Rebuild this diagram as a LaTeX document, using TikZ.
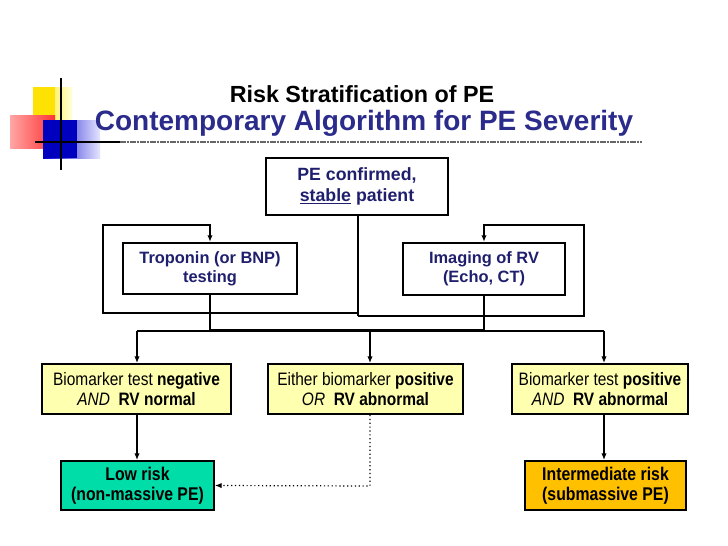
\documentclass[tikz,border=0pt]{standalone}
\usepackage{fontspec}
\setmainfont{Liberation Sans}
\newfontfamily\narrowf{Liberation Sans}[FakeStretch=0.86]
\usetikzlibrary{arrows.meta}
\definecolor{navy}{HTML}{1F1F6E}
\definecolor{ttl}{HTML}{2B2B8C}
\definecolor{lyel}{HTML}{FFFFB0}
\definecolor{lgrn}{HTML}{00DDA8}
\definecolor{ogold}{HTML}{FFC000}
\begin{document}
\begin{tikzpicture}[x=0.75pt,y=-0.75pt,
 box/.style={draw=black,line width=1.6pt,fill=white,text=navy,font=\bfseries\fontsize{12.3}{14}\selectfont,align=center,inner sep=0pt},
 ybox/.style={draw=black,line width=1.4pt,fill=lyel,font=\narrowf\fontsize{13.5}{15}\selectfont,align=center,inner sep=0pt},
 rbox/.style={draw=black,line width=1.4pt,font=\narrowf\bfseries\fontsize{13.8}{15}\selectfont,align=center,inner sep=0pt},
 ln/.style={line width=1.1pt},
 ar/.style={ln,-{Latex[length=5pt,width=4pt]}}]
\useasboundingbox (0,0) rectangle (728,546);
\fill[white] (0,0) rectangle (728,546);
% decoration
\shade[left color=yellow!80!orange,right color=yellow!15] (33,87) rectangle (72,123);
\fill[yellow!85!orange] (33,87) rectangle (55,123);
\shade[left color=red!35,right color=red!80] (10,115) rectangle (55,148);
\shade[left color=blue!80!black,right color=blue!10] (43,120) rectangle (100,158);
\fill[blue!75!black] (43,120) rectangle (77,158);
\draw[line width=1.3pt] (61,78) -- (61,170);
\draw[line width=1.3pt] (35,142) -- (120,142);
\draw[line width=1pt,black!60,dash pattern=on 2pt off 0.5pt] (120,142) -- (642,142);
% titles
\node[font=\bfseries\fontsize{17.5}{19}\selectfont] (t1) at (362,94) {Risk Stratification of PE};
\node[font=\bfseries\fontsize{21}{23}\selectfont,text=ttl] (t2) at (364,123) {Contemporary Algorithm for PE Severity};
% nodes
\node[box,font=\bfseries\fontsize{13.3}{15.5}\selectfont,minimum width=136.5pt,minimum height=42.75pt] (pe) at (357,186.5) {PE confirmed,\\ \underline{stable} patient};
\node[box,minimum width=130.5pt,minimum height=38.25pt] (tro) at (210,268.5) {Troponin (or BNP)\\testing};
\node[box,minimum width=121.5pt,minimum height=39pt] (img) at (484,269) {Imaging of RV\\(Echo, CT)};
\node[ybox,minimum width=141.75pt,minimum height=37.5pt] (neg) at (136.5,389) {Biomarker test \textbf{negative}\\\textit{AND}\ \ \textbf{RV normal}};
\node[ybox,minimum width=146.25pt,minimum height=37.5pt] (eit) at (365.5,389) {Either biomarker \textbf{positive}\\\textit{OR}\ \ \textbf{RV abnormal}};
\node[ybox,minimum width=132pt,minimum height=37.5pt] (pos) at (600,389) {Biomarker test \textbf{positive}\\\textit{AND}\ \ \textbf{RV abnormal}};
\node[rbox,fill=lgrn,minimum width=114.75pt,minimum height=36.75pt] (low) at (137.5,485.5) {Low risk\\(non-massive PE)};
\node[rbox,fill=ogold,minimum width=120.75pt,minimum height=36.75pt] (int) at (605.5,485.5) {Intermediate risk\\(submassive PE)};
% connectors
\coordinate (j1) at (358,313);
\coordinate (j2) at (358,316);
\draw[ln] (pe.south -| j1) -- (j2);
\draw[ar] (j1) -- (103,313) -- (103,225) -- (tro.north |- 0,225) -- (tro.north);
\draw[ar] (j2) -- (584,316) -- (584,225) -- (img.north |- 0,225) -- (img.north);
\draw[ln] (tro.south) -- (tro.south |- 0,330) -- (img.south |- 0,330) -- (img.south);
\draw[ln] (137,331) -- (604,331);
\draw[ar] (137,331) -- (neg.north -| 137,0);
\draw[ar] (370,331) -- (eit.north -| 370,0);
\draw[ar] (604,331) -- (pos.north -| 604,0);
\draw[ar] (neg.south -| 137,0) -- (low.north -| 137,0);
\draw[ar] (pos.south -| 604,0) -- (int.north -| 604,0);
\draw[ar,line width=0.9pt,dotted] (eit.south -| 370,0) -- (370,486) -- (low.east);
\end{tikzpicture}
\end{document}
